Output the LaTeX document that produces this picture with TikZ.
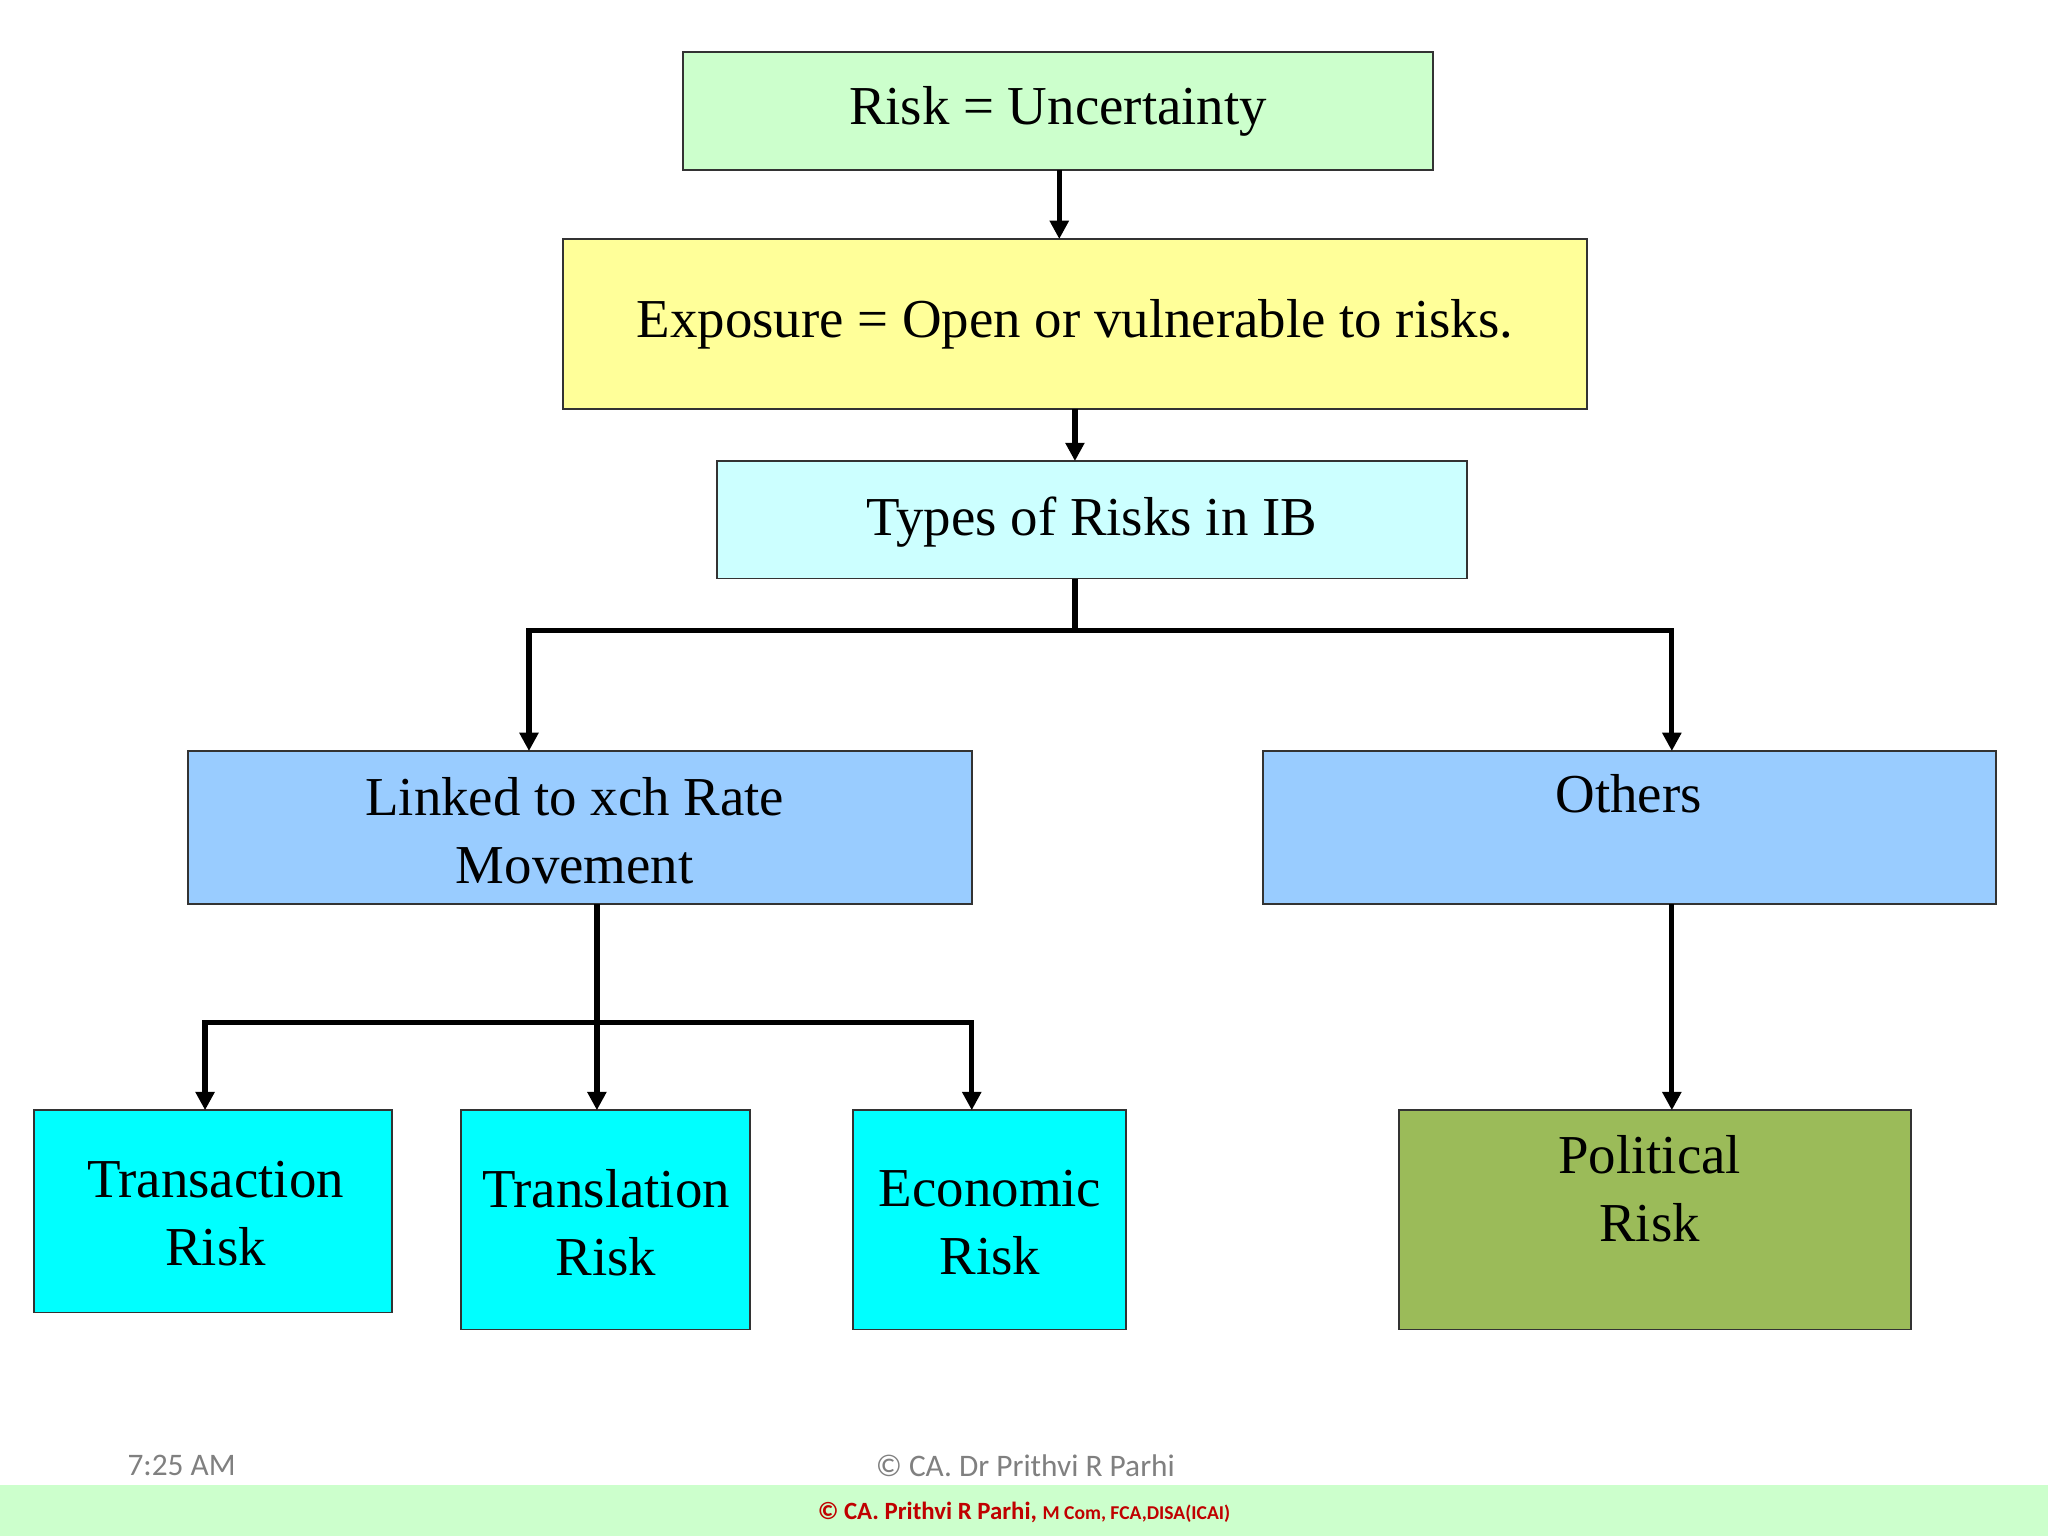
\documentclass[tikz,border=0pt]{standalone}
\usepackage{fontspec}
\setmainfont{Liberation Serif}
\newfontfamily\footfont{Carlito}
\usetikzlibrary{arrows.meta}
\definecolor{cgreen}{RGB}{204,255,204}
\definecolor{cyellow}{RGB}{255,255,153}
\definecolor{ccyanl}{RGB}{204,255,255}
\definecolor{cblue}{RGB}{153,204,255}
\definecolor{ccyan}{RGB}{0,255,255}
\definecolor{colive}{RGB}{155,187,89}
\definecolor{cred}{RGB}{192,0,0}
\begin{document}
\begin{tikzpicture}[x=0.5pt,y=-0.5pt,
  box/.style={draw=black!80,line width=0.6pt},
  lbl/.style={font=\fontsize{21}{26}\selectfont,align=center},
  con/.style={line width=2pt,-{Triangle[length=7pt,width=7pt]}},
  ln/.style={line width=2pt}]
\useasboundingbox (0,0) rectangle (1568,1176);
\fill[white] (0,0) rectangle (1568,1176);
% boxes
\draw[box,fill=cgreen] (523,40) rectangle (1097,130);
\node[lbl] (R) at (810,85) {Risk = Uncertainty};
\coordinate (Rb) at (811,130);
\draw[box,fill=cyellow] (431,183) rectangle (1215,313);
\node[lbl] (E) at (823,248) {Exposure = Open or vulnerable to risks.};
\coordinate (Et) at (811,183); \coordinate (Eb) at (823,313);
\draw[box,fill=ccyanl] (549,353) rectangle (1123,443);
\node[lbl] (T) at (836,400) {Types of Risks in IB};
\coordinate (Tt) at (823,353); \coordinate (Tb) at (823,443);
\draw[box,fill=cblue] (144,575) rectangle (744,692);
\node[lbl] (L) at (440,636) {Linked to xch Rate\\Movement};
\draw[box,fill=cblue] (967,575) rectangle (1528,692);
\node[lbl] (O) at (1247,608) {Others};
\draw[box,fill=ccyan] (26,850) rectangle (300,1005);
\node[lbl] (Tr) at (165,929) {Transaction\\Risk};
\draw[box,fill=ccyan] (353,850) rectangle (574,1018);
\node[lbl] (Tl) at (464,936) {Translation\\Risk};
\draw[box,fill=ccyan] (653,850) rectangle (862,1018);
\node[lbl] (Ec) at (758,936) {Economic\\Risk};
\draw[box,fill=colive] (1071,850) rectangle (1463,1018);
\node[lbl] (P) at (1263,910) {Political\\Risk};
% connectors
\draw[con] (Rb) -- (Et);
\draw[con] (Eb) -- (Tt);
\coordinate (J1) at (823,483);
\coordinate (La) at (405,575); \coordinate (Oa) at (1280,575);
\draw[ln] (Tb) -- (J1);
\draw[con] (J1) -| (La);
\draw[con] (J1) -| (Oa);
\coordinate (Lb) at (457,692); \coordinate (J2) at (457,783);
\draw[con] (Lb) -- (457,850);
\draw[con] (J2) -| (157,850);
\draw[con] (J2) -| (744,850);
\draw[con] (1280,692) -- (1280,850);
% footer
\fill[cgreen] (0,1137) rectangle (1568,1176);
\node[font=\footfont\fontsize{12}{14}\selectfont,text=gray] (tm) at (139,1122) {7:25 AM};
\node[font=\footfont\fontsize{12}{14}\selectfont,text=gray] (cp) at (785,1122) {© CA. Dr Prithvi R Parhi};
\node[font=\footfont\bfseries\fontsize{9.5}{12}\selectfont,text=cred] (ft) at (784,1158) {© CA. Prithvi R Parhi, {\fontsize{7.5}{9}\selectfont M Com, FCA,DISA(ICAI)}};
\end{tikzpicture}
\end{document}
